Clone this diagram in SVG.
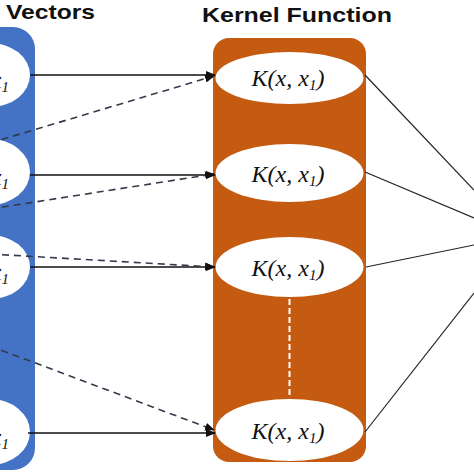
<svg xmlns="http://www.w3.org/2000/svg" width="474" height="474" viewBox="0 0 474 474">
<style>
.title{font-family:"Liberation Sans",Arial,sans-serif;font-weight:bold;font-size:21px;fill:#111}
.k{font-family:"Liberation Serif","Times New Roman",serif;font-style:italic;font-size:24px;fill:#111}
.sub{font-size:15px}
.cell{fill:#fff}
.solid{stroke:#111;stroke-width:1.5;fill:none}
.dash{stroke:#333a4a;stroke-width:1.6;stroke-dasharray:7,5;fill:none}
.out{stroke:#222;stroke-width:1.2;fill:none}
</style>
<defs>
<marker id="ah" markerWidth="10" markerHeight="8" refX="9" refY="4" orient="auto" markerUnits="userSpaceOnUse">
<path d="M0,0 L10,4 L0,8 Z" fill="#111"/>
</marker>
</defs>
<rect width="474" height="474" fill="#fff"/>
<text class="title" x="6" y="19" textLength="89" lengthAdjust="spacingAndGlyphs" font-size="23">Vectors</text>
<text class="title" x="202" y="22" textLength="190" lengthAdjust="spacingAndGlyphs">Kernel Function</text>

<g id="support-vectors">
<rect x="-60" y="27" width="95" height="443" rx="22" fill="#4472C4"/>
<g id="sv1"><ellipse class="cell" cx="-10" cy="75" rx="40" ry="32"/><text class="k" x="9" y="88" text-anchor="end">x<tspan class="sub" dy="4">1</tspan></text></g>
<g id="sv2"><ellipse class="cell" cx="-10" cy="172" rx="40" ry="33"/><text class="k" x="9" y="185" text-anchor="end">x<tspan class="sub" dy="4">1</tspan></text></g>
<g id="sv3"><ellipse class="cell" cx="-10" cy="267" rx="40" ry="32"/><text class="k" x="9" y="280" text-anchor="end">x<tspan class="sub" dy="4">1</tspan></text></g>
<g id="sv4"><ellipse class="cell" cx="-10" cy="432" rx="40" ry="33"/><text class="k" x="9" y="445" text-anchor="end">x<tspan class="sub" dy="4">1</tspan></text></g>
</g>

<g id="kernel">
<rect x="213" y="38" width="153" height="424" rx="16" fill="#C55A11"/>
<line x1="289.5" y1="299" x2="289.5" y2="398" stroke="#fff" stroke-width="2" stroke-dasharray="6,3"/>
<g id="k1"><ellipse class="cell" cx="289.5" cy="78" rx="74" ry="26"/><text class="k" x="288" y="86" text-anchor="middle">K(x, x<tspan class="sub" dy="4">1</tspan><tspan dy="-4">)</tspan></text></g>
<g id="k2"><ellipse class="cell" cx="289.5" cy="173" rx="74" ry="29"/><text class="k" x="288" y="182" text-anchor="middle">K(x, x<tspan class="sub" dy="4">1</tspan><tspan dy="-4">)</tspan></text></g>
<g id="k3"><ellipse class="cell" cx="289.5" cy="267" rx="74" ry="30"/><text class="k" x="288" y="276" text-anchor="middle">K(x, x<tspan class="sub" dy="4">1</tspan><tspan dy="-4">)</tspan></text></g>
<g id="k4"><ellipse class="cell" cx="289.5" cy="430" rx="74" ry="31"/><text class="k" x="288" y="439" text-anchor="middle">K(x, x<tspan class="sub" dy="4">1</tspan><tspan dy="-4">)</tspan></text></g>
</g>

<g id="connectors">
<line class="solid" x1="30" y1="75" x2="215" y2="75" marker-end="url(#ah)"/>
<line class="solid" x1="30" y1="175" x2="215" y2="175" marker-end="url(#ah)"/>
<line class="solid" x1="30" y1="267" x2="215" y2="267" marker-end="url(#ah)"/>
<line class="solid" x1="28" y1="433" x2="215" y2="433" marker-end="url(#ah)"/>
<line class="dash" x1="-10" y1="143" x2="214" y2="76" marker-end="url(#ah)"/>
<line class="dash" x1="-10" y1="209" x2="214" y2="174" marker-end="url(#ah)"/>
<line class="dash" x1="-10" y1="254" x2="214" y2="267" marker-end="url(#ah)"/>
<line class="dash" x1="-10" y1="346" x2="214" y2="430" marker-end="url(#ah)"/>
<line class="out" x1="365" y1="75" x2="474" y2="190"/>
<line class="out" x1="365" y1="172" x2="474" y2="218"/>
<line class="out" x1="366" y1="267" x2="474" y2="245"/>
<line class="out" x1="365" y1="432" x2="474" y2="293"/>
</g>
</svg>
